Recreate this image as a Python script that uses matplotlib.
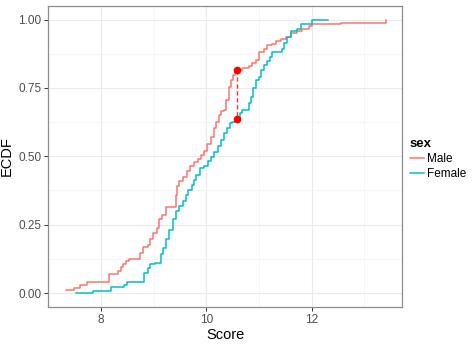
import matplotlib
matplotlib.use('Agg')
import matplotlib.pyplot as plt
from matplotlib.lines import Line2D

plt.rcParams['font.family'] = ['Liberation Sans', 'DejaVu Sans']

# ECDF step points: score where each step happens, ECDF level after it
male_x = [7.331, 7.488, 7.602, 7.740, 8.152, 8.332, 8.379, 8.427, 8.474, 8.531,
          8.745, 8.802, 8.885, 8.929, 8.991, 9.062, 9.105, 9.156, 9.232, 9.422,
          9.450, 9.488, 9.555, 9.640, 9.697, 9.773, 9.839, 9.896, 9.958, 10.019,
          10.085, 10.142, 10.190, 10.242, 10.288, 10.338, 10.370, 10.432, 10.464, 10.502,
          10.540, 10.591, 10.686, 10.811, 10.876, 10.938, 11.001, 11.096, 11.160, 11.255,
          11.318, 11.412, 11.507, 11.602, 11.729, 11.824, 11.949, 12.013, 12.550, 13.416]
male_y = [0.012, 0.020, 0.028, 0.042, 0.070, 0.081, 0.094, 0.106, 0.117, 0.125,
          0.147, 0.167, 0.177, 0.196, 0.220, 0.238, 0.269, 0.287, 0.315, 0.360,
          0.392, 0.411, 0.425, 0.445, 0.464, 0.478, 0.491, 0.505, 0.520, 0.546,
          0.571, 0.604, 0.626, 0.651, 0.664, 0.669, 0.706, 0.754, 0.779, 0.797,
          0.810, 0.816, 0.824, 0.830, 0.840, 0.852, 0.881, 0.894, 0.906, 0.912,
          0.921, 0.928, 0.937, 0.949, 0.958, 0.967, 0.976, 0.982, 0.988, 1.000]

female_x = [7.520, 7.839, 8.190, 8.446, 8.502, 8.821, 8.885, 8.935, 9.029, 9.137,
            9.169, 9.232, 9.295, 9.359, 9.422, 9.484, 9.549, 9.611, 9.653, 9.719,
            9.767, 9.813, 9.877, 9.958, 10.023, 10.085, 10.148, 10.213, 10.275, 10.338,
            10.389, 10.451, 10.497, 10.591, 10.641, 10.686, 10.811, 10.844, 10.895, 10.938,
            11.001, 11.046, 11.095, 11.160, 11.209, 11.255, 11.444, 11.475, 11.526, 11.602,
            11.729, 11.791, 12.013, 12.313]
female_y = [0.001, 0.007, 0.021, 0.028, 0.039, 0.074, 0.093, 0.105, 0.111, 0.141,
            0.165, 0.196, 0.232, 0.269, 0.299, 0.317, 0.335, 0.360, 0.378, 0.396,
            0.414, 0.433, 0.457, 0.463, 0.481, 0.498, 0.516, 0.536, 0.560, 0.585,
            0.603, 0.621, 0.627, 0.637, 0.657, 0.669, 0.694, 0.718, 0.749, 0.779,
            0.791, 0.815, 0.833, 0.848, 0.864, 0.882, 0.894, 0.913, 0.937, 0.958,
            0.967, 0.985, 0.999, 1.000]

# point of largest gap between the two curves
gap_x = 10.591
gap_y = [0.816, 0.637]

male_col = '#F8766D'
female_col = '#00BFC4'

fig = plt.figure(figsize=(4.74, 3.45), dpi=100)
ax = fig.add_axes([0.102, 0.111, 0.747, 0.872])

ax.step(male_x, male_y, where='post', color=male_col, lw=1.1)
ax.step(female_x, female_y, where='post', color=female_col, lw=1.1)
ax.plot([gap_x, gap_x], gap_y, color='#FF3030', lw=1.0, linestyle=(0, (3, 2)))
ax.plot([gap_x, gap_x], gap_y, 'o', color='red', ms=4.5)

ax.set_xlim(7.015, 13.725)
ax.set_ylim(-0.05, 1.05)
ax.set_xticks([8, 10, 12])
ax.set_xticks([7, 9, 11, 13], minor=True)
ax.set_yticks([0, 0.25, 0.5, 0.75, 1.0])
ax.set_yticklabels(['0.00', '0.25', '0.50', '0.75', '1.00'])
ax.set_yticks([0.125, 0.375, 0.625, 0.875], minor=True)

ax.grid(which='major', color='#EBEBEB', lw=0.8)
ax.grid(which='minor', color='#F5F5F5', lw=0.6)
ax.set_axisbelow(True)
ax.tick_params(which='major', length=3, width=0.7, color='#333333', labelsize=8.5,
               labelcolor='#4D4D4D', pad=2)
ax.tick_params(which='minor', length=0)
for s in ax.spines.values():
    s.set_color('#8C8C8C')
    s.set_linewidth(0.9)

ax.set_xlabel('Score', fontsize=10.5, labelpad=2)
ax.set_ylabel('ECDF', fontsize=10.5, labelpad=3)

handles = [Line2D([], [], color=male_col, lw=1.1), Line2D([], [], color=female_col, lw=1.1)]
leg = fig.legend(handles, ['Male', 'Female'], title='sex', loc='upper left',
                 bbox_to_anchor=(0.864, 0.6), frameon=False, fontsize=8.5,
                 title_fontsize=9.5, handlelength=1.2, handletextpad=0.3,
                 labelspacing=0.25, borderaxespad=0, borderpad=0)
leg.get_title().set_fontweight('bold')
leg._legend_box.align = 'left'

fig.savefig('out.png', dpi=100)
